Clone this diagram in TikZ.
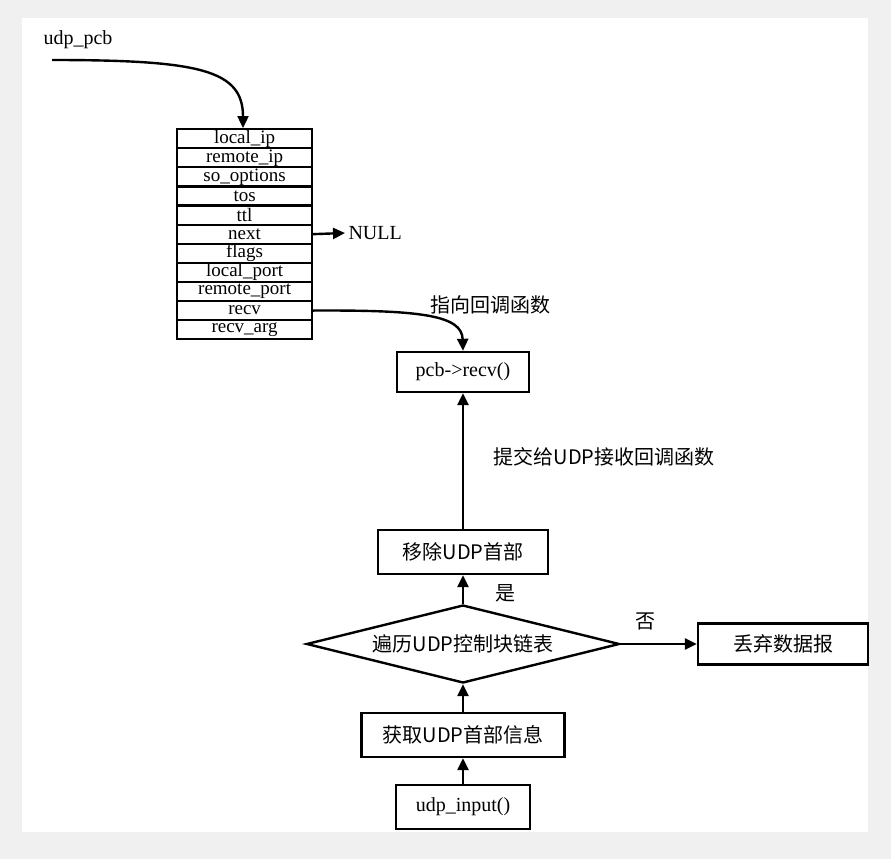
\documentclass[tikz,border=0pt]{standalone}
\usepackage{fontspec}
\setmainfont{Liberation Serif}
\newfontfamily\cjk{Noto Sans CJK SC}
\usetikzlibrary{arrows.meta,shapes.geometric}
\begin{document}
\begin{tikzpicture}[x=1pt,y=-1pt,
  every node/.style={font=\fontsize{20}{22}\selectfont},
  box/.style={draw,line width=2.4pt,minimum height=#1,inner sep=0pt},
  cell/.style={draw,line width=2.2pt,minimum width=135pt,minimum height=19.1pt,inner sep=0pt,anchor=north west,font=\fontsize{19}{19}\selectfont},
  arr/.style={line width=2.4pt,-{Triangle[length=12pt,width=11pt]}}]
\useasboundingbox (0,0) rectangle (891,859);
\fill[gray!12] (0,0) rectangle (891,859);
\fill[white] (22,18) rectangle (868,832);
\node[anchor=west] (pcb) at (40,40) {udp\_pcb};
\coordinate (s) at (52,60);
\foreach \t [count=\i from 0] in {local\_ip,remote\_ip,so\_options,tos,ttl,next,flags,local\_port,remote\_port,recv,recv\_arg}{
  \node[cell] (c\i) at (176,128+19.1*\i) {\t};
}
\draw[arr] (s) .. controls (200,60) and (243,70) .. (243,128);
\node[anchor=west] (null) at (345,233) {NULL};
\draw[arr] (c5.east) -- (null.west);
\node[box=40pt,minimum width=132pt] (r) at (463,372) {pcb->recv()};
\draw[arr] (c9.east) .. controls (420,310) and (462,315) .. (r.north);
\node (l1) at (490,305) {\cjk 指向回调函数};
\node[box=44pt,minimum width=170pt] (rm) at (463,552) {\cjk 移除UDP首部};
\draw[arr] (rm.north) -- (r.south);
\node (l2) at (604,457) {\cjk 提交给UDP接收回调函数};
\node[diamond,draw,line width=2.4pt,minimum width=313pt,minimum height=78pt,inner sep=0pt,aspect=4] (d) at (463,644) {\cjk 遍历UDP控制块链表};
\draw[arr] (d.north) -- (rm.south);
\node (yes) at (505,593) {\cjk 是};
\node[box=41pt,minimum width=170pt] (drop) at (783,644) {\cjk 丢弃数据报};
\draw[arr] (d.east) -- (drop.west);
\node (no) at (645,621) {\cjk 否};
\node[box=44pt,minimum width=203pt] (get) at (463,735) {\cjk 获取UDP首部信息};
\draw[arr] (get.north) -- (d.south);
\node[box=44pt,minimum width=134pt] (in) at (463,807) {udp\_input()};
\draw[arr] (in.north) -- (get.south);
\end{tikzpicture}
\end{document}
